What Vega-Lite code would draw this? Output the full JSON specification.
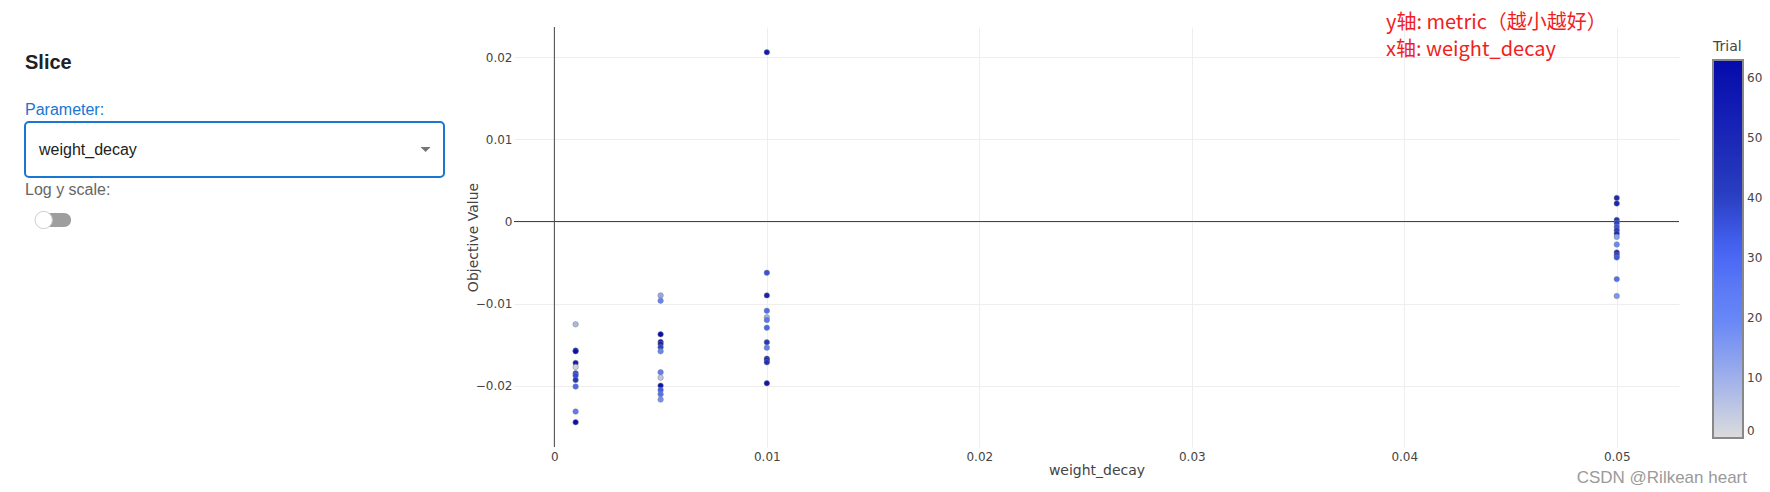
{
  "$schema": "https://vega.github.io/schema/vega-lite/v6.json",
  "background": "white",
  "padding": {"left": 24, "top": 13, "right": 0, "bottom": 4},
  "autosize": {"type": "pad"},
  "bounds": "flush",
  "spacing": 70,
  "title": {"text": "CSDN @Rilkean heart", "orient": "bottom", "anchor": "end", "frame": "bounds", "offset": -7, "dx": -29, "fontSize": 17, "font": "Liberation Sans", "fontWeight": "normal", "color": "#9a9a9a"},
  "hconcat": [
    {
      "width": 419,
      "height": 420,
      "data": {"values": [
        {"item": "title", "label": "Slice"},
        {"item": "param", "label": "Parameter:"},
        {"item": "select", "label": "weight_decay"},
        {"item": "log", "label": "Log y scale:"},
        {"item": "toggle", "label": ""}
      ]},
      "encoding": {
        "y": {"field": "item", "type": "nominal", "scale": {"type": "point", "domain": ["title", "param", "select", "log", "toggle"], "range": [52, 193], "padding": 0}, "axis": null}
      },
      "layer": [
        {
          "transform": [{"filter": "datum.item === 'select'"}],
          "mark": {"type": "rect", "height": 55, "fill": "white", "stroke": "#1976d2", "strokeWidth": 2, "cornerRadius": 4},
          "encoding": {
            "x": {"datum": 0, "type": "quantitative", "scale": {"domain": [0, 1], "nice": false, "zero": false}, "axis": null},
            "x2": {"datum": 1}
          }
        },
        {
          "transform": [{"filter": "datum.item === 'select'"}],
          "mark": {"type": "point", "shape": "M-1,-0.5L1,-0.5L0,0.5Z", "size": 100, "filled": true, "color": "#757575", "opacity": 1},
          "encoding": {"x": {"datum": 0.956, "type": "quantitative"}}
        },
        {
          "transform": [{"filter": "datum.item === 'toggle'"}],
          "mark": {"type": "rect", "height": 14, "fill": "#9e9e9e", "cornerRadius": 7},
          "encoding": {"x": {"datum": 0.028, "type": "quantitative"}, "x2": {"datum": 0.11}}
        },
        {
          "transform": [{"filter": "datum.item === 'toggle'"}],
          "mark": {"type": "circle", "size": 300, "fill": "white", "stroke": "#cfcfcf", "strokeWidth": 1, "opacity": 1},
          "encoding": {"x": {"datum": 0.0446, "type": "quantitative"}}
        },
        {
          "transform": [{"filter": "datum.item === 'title'"}],
          "mark": {"type": "text", "align": "left", "baseline": "middle", "dy": -16, "font": "Liberation Sans", "fontSize": 20, "fontWeight": "bold", "color": "#212121"},
          "encoding": {"x": {"datum": 0, "type": "quantitative"}, "text": {"field": "label"}}
        },
        {
          "transform": [{"filter": "datum.item === 'param'"}],
          "mark": {"type": "text", "align": "left", "baseline": "middle", "dy": -4, "font": "Liberation Sans", "fontSize": 16, "color": "#1976d2"},
          "encoding": {"x": {"datum": 0, "type": "quantitative"}, "text": {"field": "label"}}
        },
        {
          "transform": [{"filter": "datum.item === 'select'"}],
          "mark": {"type": "text", "align": "left", "baseline": "middle", "dx": 14, "font": "Liberation Sans", "fontSize": 16, "color": "#212121"},
          "encoding": {"x": {"datum": 0, "type": "quantitative"}, "text": {"field": "label"}}
        },
        {
          "transform": [{"filter": "datum.item === 'log'"}],
          "mark": {"type": "text", "align": "left", "baseline": "middle", "dy": 5, "font": "Liberation Sans", "fontSize": 16, "color": "#666666"},
          "encoding": {"x": {"datum": 0, "type": "quantitative"}, "text": {"field": "label"}}
        }
      ]
    },
    {
      "width": 1165,
      "height": 420,
      "layer": [
        {
          "data": {"values": [{}]},
          "mark": {"type": "rule", "color": "#444444", "strokeWidth": 1},
          "encoding": {"x": {"datum": 0, "type": "quantitative"}}
        },
        {
          "data": {"values": [{}]},
          "mark": {"type": "rule", "color": "#444444", "strokeWidth": 1},
          "encoding": {"y": {"datum": 0, "type": "quantitative"}}
        },
        {
          "data": {"values": [
            {"weight_decay": 0.001, "value": -0.01251, "trial": 8},
            {"weight_decay": 0.001, "value": -0.0157, "trial": 57},
            {"weight_decay": 0.001, "value": -0.0158, "trial": 61},
            {"weight_decay": 0.001, "value": -0.01721, "trial": 54},
            {"weight_decay": 0.001, "value": -0.0177, "trial": 2},
            {"weight_decay": 0.001, "value": -0.01846, "trial": 37},
            {"weight_decay": 0.001, "value": -0.01875, "trial": 38},
            {"weight_decay": 0.001, "value": -0.01928, "trial": 44},
            {"weight_decay": 0.001, "value": -0.02009, "trial": 30},
            {"weight_decay": 0.001, "value": -0.02313, "trial": 24},
            {"weight_decay": 0.001, "value": -0.02442, "trial": 60},
            {"weight_decay": 0.005, "value": -0.00899, "trial": 12},
            {"weight_decay": 0.005, "value": -0.00964, "trial": 21},
            {"weight_decay": 0.005, "value": -0.01373, "trial": 62},
            {"weight_decay": 0.005, "value": -0.01466, "trial": 56},
            {"weight_decay": 0.005, "value": -0.0149, "trial": 52},
            {"weight_decay": 0.005, "value": -0.0153, "trial": 39},
            {"weight_decay": 0.005, "value": -0.01579, "trial": 20},
            {"weight_decay": 0.005, "value": -0.01834, "trial": 23},
            {"weight_decay": 0.005, "value": -0.019, "trial": 5},
            {"weight_decay": 0.005, "value": -0.01997, "trial": 59},
            {"weight_decay": 0.005, "value": -0.0205, "trial": 33},
            {"weight_decay": 0.005, "value": -0.02101, "trial": 27},
            {"weight_decay": 0.005, "value": -0.02167, "trial": 17},
            {"weight_decay": 0.01, "value": 0.0206, "trial": 55},
            {"weight_decay": 0.01, "value": -0.00624, "trial": 36},
            {"weight_decay": 0.01, "value": -0.00899, "trial": 53},
            {"weight_decay": 0.01, "value": -0.01086, "trial": 29},
            {"weight_decay": 0.01, "value": -0.01166, "trial": 9},
            {"weight_decay": 0.01, "value": -0.01199, "trial": 26},
            {"weight_decay": 0.01, "value": -0.01292, "trial": 31},
            {"weight_decay": 0.01, "value": -0.0147, "trial": 43},
            {"weight_decay": 0.01, "value": -0.01535, "trial": 22},
            {"weight_decay": 0.01, "value": -0.01669, "trial": 63},
            {"weight_decay": 0.01, "value": -0.01685, "trial": 50},
            {"weight_decay": 0.01, "value": -0.01713, "trial": 46},
            {"weight_decay": 0.01, "value": -0.01968, "trial": 58},
            {"weight_decay": 0.05, "value": 0.00287, "trial": 49},
            {"weight_decay": 0.05, "value": 0.00219, "trial": 51},
            {"weight_decay": 0.05, "value": 0.0002, "trial": 45},
            {"weight_decay": 0.05, "value": -0.00017, "trial": 40},
            {"weight_decay": 0.05, "value": -0.00065, "trial": 35},
            {"weight_decay": 0.05, "value": -0.00106, "trial": 42},
            {"weight_decay": 0.05, "value": -0.00146, "trial": 48},
            {"weight_decay": 0.05, "value": -0.00187, "trial": 14},
            {"weight_decay": 0.05, "value": -0.0028, "trial": 19},
            {"weight_decay": 0.05, "value": -0.00377, "trial": 47},
            {"weight_decay": 0.05, "value": -0.00409, "trial": 41},
            {"weight_decay": 0.05, "value": -0.00437, "trial": 34},
            {"weight_decay": 0.05, "value": -0.00701, "trial": 28},
            {"weight_decay": 0.05, "value": -0.00907, "trial": 16}
          ]},
          "mark": {"type": "circle", "size": 30, "stroke": "grey", "strokeWidth": 0.5, "opacity": 1},
          "encoding": {
            "x": {"field": "weight_decay", "type": "quantitative", "title": "weight_decay",
              "scale": {"domain": [-0.0019, 0.05293], "nice": false, "zero": false},
              "axis": {"values": [0, 0.01, 0.02, 0.03, 0.04, 0.05], "format": "~g", "labelPadding": 4, "titlePadding": 1, "labelFlush": false}},
            "y": {"field": "value", "type": "quantitative", "title": "Objective Value",
              "scale": {"domain": [-0.02744, 0.02367], "nice": false, "zero": false},
              "axis": {"values": [-0.02, -0.01, 0, 0.01, 0.02], "format": "~g", "labelPadding": 2, "titlePadding": -5, "labelFlush": false}},
            "color": {"field": "trial", "type": "quantitative",
              "scale": {"domain": [0, 18.9, 25.2, 31.5, 40.95, 63], "range": ["rgb(220,220,220)", "rgb(106,137,247)", "rgb(90,120,245)", "rgb(70,100,245)", "rgb(40,60,190)", "rgb(5,10,172)"], "interpolate": "rgb"},
              "legend": {"title": "Trial", "orient": "right", "direction": "vertical", "values": [0, 10, 20, 30, 40, 50, 60], "format": "d", "gradientLength": 378, "gradientThickness": 30, "gradientStrokeColor": "#888888", "gradientStrokeWidth": 2, "labelFont": "DejaVu Sans", "labelFontSize": 12, "labelColor": "#444444", "labelOffset": 4, "titleFont": "DejaVu Sans", "titleFontSize": 14, "titleFontWeight": "normal", "titleColor": "#444444", "titlePadding": 6, "padding": 13, "offset": 20}}
          }
        },
        {
          "data": {"values": [{"note": "y轴: metric（越小越好）\nx轴: weight_decay"}]},
          "mark": {"type": "text", "align": "left", "baseline": "alphabetic", "lineBreak": "\n", "lineHeight": 27, "font": "Noto Sans CJK SC", "fontSize": 20, "color": "#f01e1e"},
          "encoding": {
            "x": {"datum": 0.03914, "type": "quantitative"},
            "y": {"datum": 0.02339, "type": "quantitative"},
            "text": {"field": "note"}
          }
        }
      ]
    }
  ],
  "config": {
    "view": {"stroke": null},
    "axis": {"domain": false, "ticks": false, "grid": true, "gridColor": "#eeeeee", "gridWidth": 1, "labelFont": "DejaVu Sans", "labelFontSize": 12, "labelColor": "#444444", "titleFont": "DejaVu Sans", "titleFontSize": 14, "titleFontWeight": "normal", "titleColor": "#444444"}
  }
}
